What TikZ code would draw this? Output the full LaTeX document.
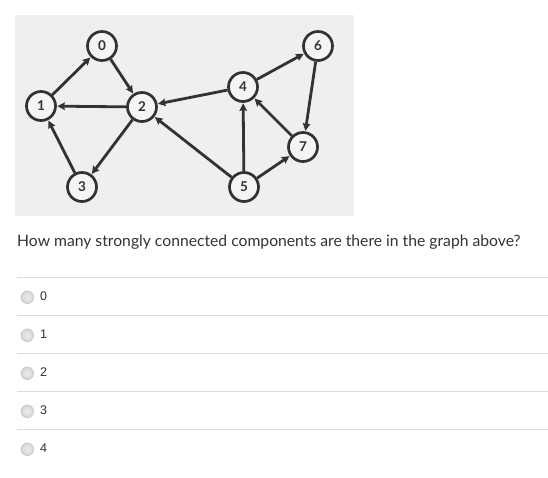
\documentclass[tikz,border=0pt]{standalone}
\usepackage{fontspec}
\setmainfont{Lato}
\newfontfamily\optfont{Liberation Sans}
\usetikzlibrary{arrows.meta}
\definecolor{bggray}{RGB}{239,239,239}
\definecolor{nodefill}{RGB}{244,244,244}
\definecolor{ink}{RGB}{50,50,50}
\definecolor{rulegray}{RGB}{221,221,221}
\definecolor{txt}{RGB}{51,51,51}
\tikzset{
  vtx/.style={circle,draw=ink,line width=2.7pt,fill=nodefill,minimum size=29pt,inner sep=0pt,
    font=\fontsize{13.5}{13.5}\selectfont\bfseries,text=ink},
  edge/.style={draw=ink,line width=2.8pt,-{Stealth[length=7.5pt,width=7.5pt,inset=1pt]},shorten >=0.5pt},
  radio/.style={circle,draw={rgb,255:red,195;green,195;blue,195},line width=0.7pt,
    inner color={rgb,255:red,235;green,235;blue,235},outer color={rgb,255:red,215;green,215;blue,215},minimum size=12.5pt,inner sep=0pt},
  opt/.style={anchor=west,font=\optfont\fontsize{12.5}{12.5}\selectfont,text=txt,inner sep=0pt},
  sep/.style={draw=rulegray,line width=1pt}
}
\begin{document}
\begin{tikzpicture}[x=1pt,y=-1pt]
\useasboundingbox (0,0) rectangle (548,477);
\fill[white] (0,0) rectangle (548,477);
\fill[bggray] (15,15) rectangle (354,216);
\node[vtx] (n0) at (102,46) {0};
\node[vtx] (n1) at (41,106) {1};
\node[vtx] (n2) at (142,107) {2};
\node[vtx] (n3) at (82,187) {3};
\node[vtx] (n4) at (243,87) {4};
\node[vtx] (n5) at (244,187) {5};
\node[vtx] (n6) at (318,46) {6};
\node[vtx] (n7) at (303,147) {7};
\draw[edge] (n1) -- (n0);
\draw[edge] (n0) -- (n2);
\draw[edge] (n2) -- (n1);
\draw[edge] (n2) -- (n3);
\draw[edge] (n3) -- (n1);
\draw[edge] (n4) -- (n2);
\draw[edge] (n5) -- (n2);
\draw[edge] (n5) -- (n4);
\draw[edge] (n5) -- (n7);
\draw[edge] (n7) -- (n4);
\draw[edge] (n4) -- (n6);
\draw[edge] (n6) -- (n7);
\node[anchor=west,inner sep=0pt,text=txt,font=\fontsize{15.7}{15.7}\selectfont] (q) at (17,242) {How many strongly connected components are there in the graph above?};
\coordinate (l1a) at (17,277.5); \coordinate (l1b) at (548,277.5);
\coordinate (l2a) at (17,315.5); \coordinate (l2b) at (548,315.5);
\coordinate (l3a) at (17,353.5); \coordinate (l3b) at (548,353.5);
\coordinate (l4a) at (17,391.5); \coordinate (l4b) at (548,391.5);
\coordinate (l5a) at (17,429.5); \coordinate (l5b) at (548,429.5);
\draw[sep] (l1a) -- (l1b);
\draw[sep] (l2a) -- (l2b);
\draw[sep] (l3a) -- (l3b);
\draw[sep] (l4a) -- (l4b);
\draw[sep] (l5a) -- (l5b);
\node[radio] (r0) at (27.3,297.3) {};
\node[radio] (r1) at (27.3,335.3) {};
\node[radio] (r2) at (27.3,373.3) {};
\node[radio] (r3) at (27.3,411.3) {};
\node[radio] (r4) at (27.3,449.3) {};
\node[opt] (o0) at (40,296.5) {0};
\node[opt] (o1) at (40,334.5) {1};
\node[opt] (o2) at (40,372.5) {2};
\node[opt] (o3) at (40,410.5) {3};
\node[opt] (o4) at (40,448.5) {4};
\end{tikzpicture}
\end{document}
